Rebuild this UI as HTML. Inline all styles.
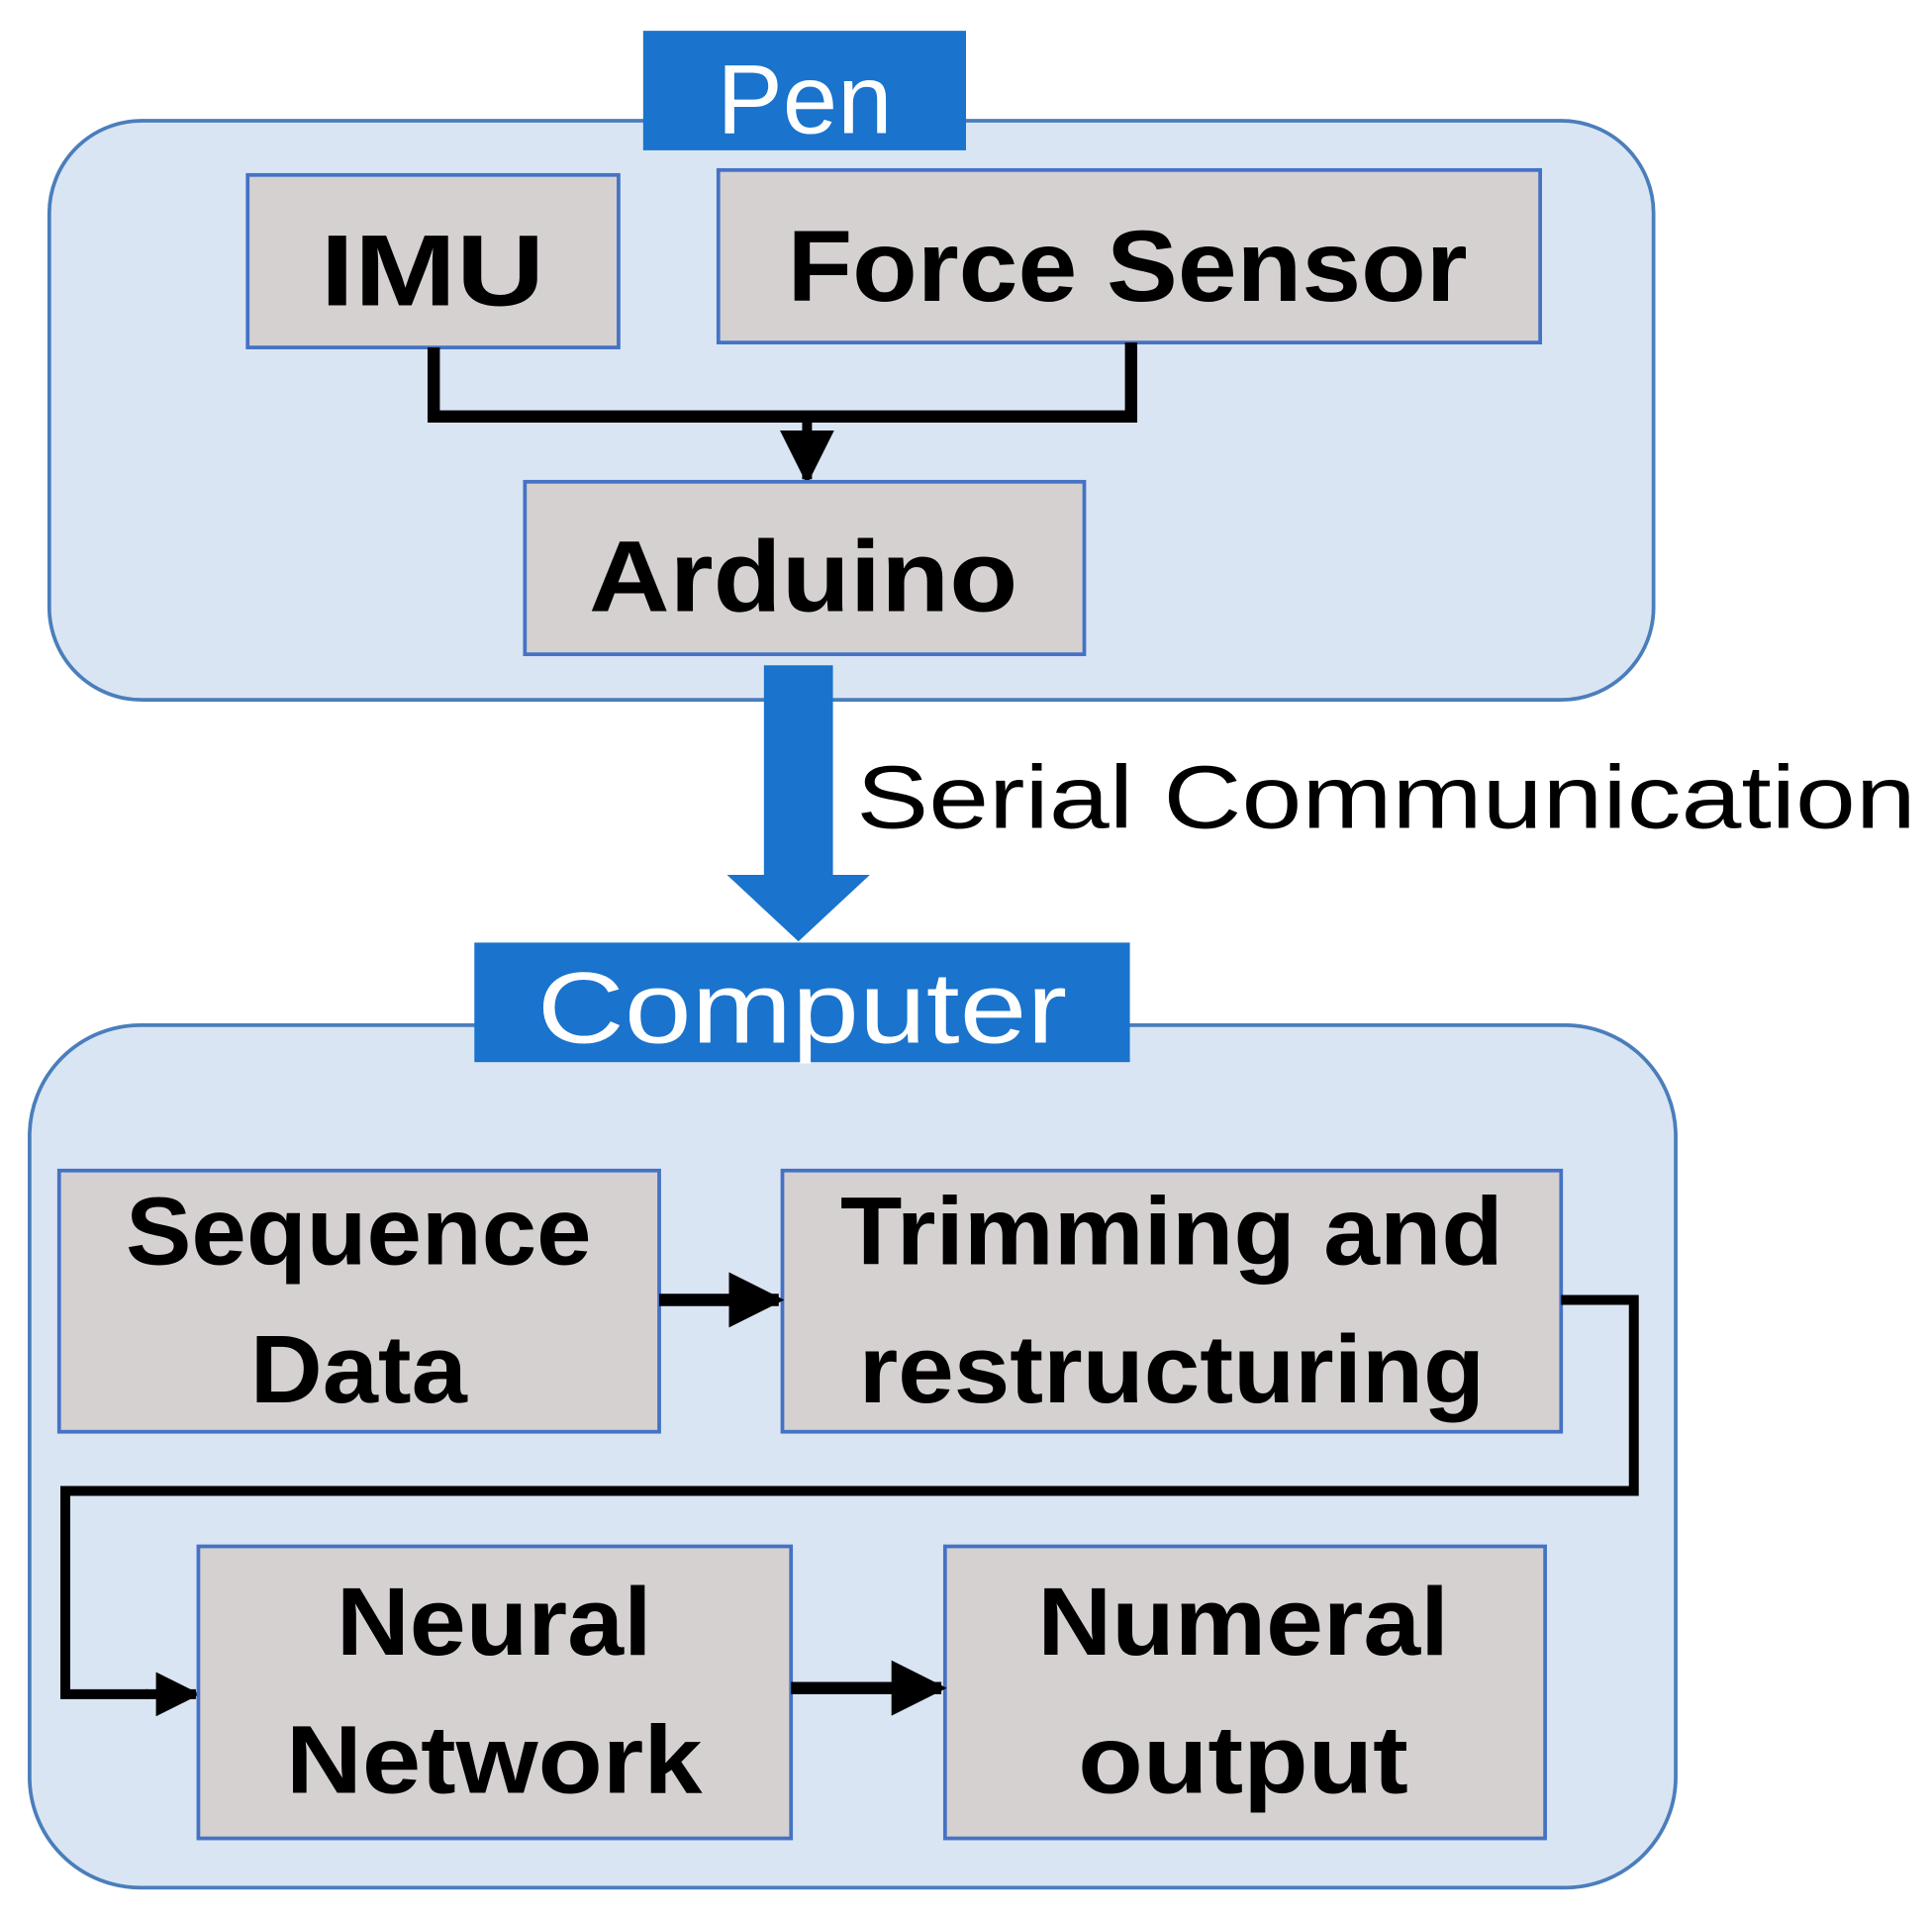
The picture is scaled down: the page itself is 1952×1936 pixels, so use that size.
<!DOCTYPE html>
<html><head><meta charset="utf-8"><style>html,body{margin:0;padding:0;background:#fff}svg{display:block}</style></head>
<body>
<svg width="1952" height="1936" viewBox="0 0 1568 1555" preserveAspectRatio="none" xmlns="http://www.w3.org/2000/svg" font-family="'Liberation Sans', sans-serif" font-weight="bold">
<defs>
<marker id="ah" viewBox="0 0 10 10" refX="9" refY="5" markerWidth="4.5" markerHeight="4.5" orient="auto" markerUnits="strokeWidth"><path d="M0,0 L10,5 L0,10 z" fill="#000"/></marker>
<marker id="ah2" viewBox="0 0 10 10" refX="9" refY="5" markerWidth="5.5" markerHeight="5.5" orient="auto" markerUnits="strokeWidth"><path d="M0,0 L10,5 L0,10 z" fill="#000"/></marker>
</defs>
<rect x="40" y="98" width="1302" height="470" rx="75" fill="#dae5f4" stroke="#4a7ebb" stroke-width="3"/>
<rect x="522" y="25" width="262" height="97" fill="#1a73cc"/>
<text x="653" y="108" font-size="80" fill="#fff" text-anchor="middle" font-weight="normal">Pen</text>
<rect x="201" y="142" width="301" height="140" fill="#d5d1d1" stroke="#4472c4" stroke-width="3"/>
<text x="351" y="248" font-size="82" text-anchor="middle" textLength="182" lengthAdjust="spacingAndGlyphs">IMU</text>
<rect x="583" y="138" width="667" height="140" fill="#d5d1d1" stroke="#4472c4" stroke-width="3"/>
<text x="915" y="244" font-size="82" text-anchor="middle" textLength="552" lengthAdjust="spacingAndGlyphs">Force Sensor</text>
<path d="M352,282 V338 H918 V278" fill="none" stroke="#000" stroke-width="10"/>
<line x1="655" y1="338" x2="655" y2="389" stroke="#000" stroke-width="8" marker-end="url(#ah2)"/>
<rect x="426" y="391" width="454" height="140" fill="#d5d1d1" stroke="#4472c4" stroke-width="3"/>
<text x="652" y="496" font-size="82" text-anchor="middle" textLength="348" lengthAdjust="spacingAndGlyphs">Arduino</text>
<path d="M620,540 H676 V710 H706 L648,764 L590,710 H620 Z" fill="#1a73cc"/>
<text x="695" y="672" font-size="72" textLength="860" lengthAdjust="spacingAndGlyphs" font-weight="normal">Serial Communication</text>
<rect x="24" y="832" width="1336" height="700" rx="90" fill="#dae5f4" stroke="#4a7ebb" stroke-width="3"/>
<rect x="385" y="765" width="532" height="97" fill="#1a73cc"/>
<text x="651" y="846" font-size="82" fill="#fff" text-anchor="middle" font-weight="normal" textLength="430" lengthAdjust="spacingAndGlyphs">Computer</text>
<rect x="48" y="950" width="487" height="212" fill="#d5d1d1" stroke="#4472c4" stroke-width="3"/>
<text x="291" y="1026" font-size="78" text-anchor="middle" textLength="378" lengthAdjust="spacingAndGlyphs">Sequence</text>
<text x="291" y="1138" font-size="78" text-anchor="middle" textLength="176" lengthAdjust="spacingAndGlyphs">Data</text>
<rect x="635" y="950" width="632" height="212" fill="#d5d1d1" stroke="#4472c4" stroke-width="3"/>
<text x="951" y="1026" font-size="78" text-anchor="middle" textLength="538" lengthAdjust="spacingAndGlyphs">Trimming and</text>
<text x="951" y="1138" font-size="78" text-anchor="middle" textLength="508" lengthAdjust="spacingAndGlyphs">restructuring</text>
<line x1="535" y1="1055" x2="632" y2="1055" stroke="#000" stroke-width="10" marker-end="url(#ah)"/>
<path d="M1267,1055 H1326 V1210 H53 V1375 H120" fill="none" stroke="#000" stroke-width="8"/>
<line x1="118" y1="1375" x2="159" y2="1375" stroke="#000" stroke-width="8" marker-end="url(#ah)"/>
<rect x="161" y="1255" width="481" height="237" fill="#d5d1d1" stroke="#4472c4" stroke-width="3"/>
<text x="401" y="1343" font-size="78" text-anchor="middle" textLength="256" lengthAdjust="spacingAndGlyphs">Neural</text>
<text x="401" y="1455" font-size="78" text-anchor="middle" textLength="338" lengthAdjust="spacingAndGlyphs">Network</text>
<rect x="767" y="1255" width="487" height="237" fill="#d5d1d1" stroke="#4472c4" stroke-width="3"/>
<text x="1009" y="1343" font-size="78" text-anchor="middle" textLength="334" lengthAdjust="spacingAndGlyphs">Numeral</text>
<text x="1009" y="1455" font-size="78" text-anchor="middle" textLength="268" lengthAdjust="spacingAndGlyphs">output</text>
<line x1="642" y1="1370" x2="764" y2="1370" stroke="#000" stroke-width="10" marker-end="url(#ah)"/>
</svg>
</body></html>
